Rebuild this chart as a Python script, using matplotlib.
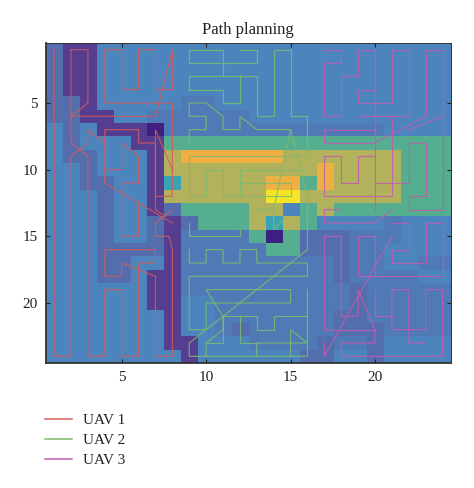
import matplotlib
matplotlib.use("Agg")
import matplotlib.pyplot as plt
from matplotlib.colors import ListedColormap

grid_rows = [
    [2,1,1]+[4]*21,
    [2,1,1]+[4]*21,
    [2,1,1]+[4]*21,
    [2,1,1]+[4]*21,
    [2,2,1]+[4]*5+[3,3]+[4]*14,
    [2,2,1,1,4,4]+[3]*6+[4]*12,
    [4,2,4,1,1,1,0]+[3]*13+[4]*4,
    [4,2,4,4,4,1,1]+[6]*17,
    [4,2,2,4,4,4,1,7]+[8]*6+[7]*7+[6]*3,
    [4,4,2,4,4,4,1,7]+[7]*8+[8]+[7]*4+[6]*3,
    [4,4,2,2,4,4,1,5]+[7]*5+[8,8,6,8]+[7]*4+[6]*3,
    [4,4,4,2,4,4,1,7]+[7]*5+[9,9,7,7]+[7]*4+[6]*3,
    [4,4,4,2,4,4,1,2]+[6]*4+[7,7,4,6,7]+[6]*7,
    [4,4,4,2,4,4,2,1,2,6,6,6,7,5,7,6,4,4,4,4,3,4,4,4],
    [4,4,4,2,4,4,2,1,3,3,3,3,6,0,6,2,2,2,3,3,3,4,4,4],
    [4,4,4,2,2,2,2,1,3,3,3,3,3,6,6,2,2,2,3,3,4,4,4,4],
    [4,4,4,2,2,4,4,1]+[3]*9+[2,3,3,4,4,3,3],
    [4,4,4,2,2,4,1,1]+[3]*9+[2,3,3,3,3,4,4],
    [4]*6+[1,1]+[3]*10+[2]+[3]*5,
    [4]*6+[1,1,4,4]+[3]*8+[2]+[3]*5,
    [4]*7+[1,4,4]+[3]*7+[2,2]+[3]*5,
    [4]*7+[1,4,4,3,2]+[3]*5+[2,2,2]+[3]*4,
    [4]*7+[1,1,4,4,4,3,3,3,3,2,3,3,2,4,4,4,4],
    [4]*8+[1]+[4]*6+[2,2,4,4,2,4,4,4,4],
]
level_colors = ["#3f2080", "#553d8f", "#536dad", "#4f7ab5", "#4c85bd", "#3aa3b3",
                "#55ae8f", "#b3b25c", "#efb043", "#f6e526"]

uav1_paths = [
    [(1,1),(1,24),(2,24),(2,9),(3,8),(3,7),(4,8)],
    [(2,1),(2,8),(3,9),(3,24),(4,24),(4,19),(5,19),(5,24),(6,24),(6,17),(7,17),(7,16),(4,16),
     (4,18),(5,18),(5,17),(7,18),(7,24),(8,24),(8,16),(7.8,15),(7,15),(7,14),(8,13)],
    [(2,1),(3,1),(3,5),(2,6),(7,6),(8,1),(8,4),(7,4),(7,1),(6,1),(6,4),(5,4),(5,1),(4,1),(4,5),
     (8,5),(8,12),(7,12),(7,8),(6,8),(6,7),(4,7),(4,11),(8,14)],
    [(8,10),(7,7),(7,13),(7.6,13.5)],
    [(4,10),(5,10),(5,8),(6,9),(6,11),(5,11),(5,15),(6,15),(6,12.5)],
]
uav2_paths = [
    [(12,1),(13,1),(13,2),(9,2),(9,1),(11,1),(11,3)],
    [(9,3),(13,3),(13,6),(14,6),(14,1),(15,1),(15,6),(16,6),(16,9),(9,9),(9,12),(10,12),(10,10),
     (11,10),(11,12),(12,12),(12,10),(16,10)],
    [(9,3),(9,4),(11,4),(11,5),(12,5),(12,3)],
    [(9,8),(9,7),(10,7),(10,6),(9,6),(9,5),(10,5),(11,6),(11,7),(12,7),(12,6),(13,7),(15,7),(14,13)],
    [(15,7),(16,12),(16,16),(9,23),(9,24),(16,24),(16,23),(13,23),(13,24)],
    [(12,11),(15,11),(15,12),(12,12)],
    [(13,13),(14,13),(14,14.5),(14.6,13.7)],
    [(9,14),(9,15),(12,15),(12,14.5)],
    [(9,16),(9,17),(10,17),(10,16),(11,16),(11,17),(12,17),(12,16),(13,16),(13,17),(16,17),(16,18),
     (9,18),(9,22),(10,22),(10,20),(15,20),(15,19),(10,19),(11,21),(11,22),(10,23),(10,24)],
    [(10,23),(11,23),(11,21),(12,21),(12,23),(13,23)],
    [(12,21),(13,21),(13,22),(14,22),(14,21),(16,21)],
    [(16,19),(16,23),(15,22),(15,24)],
]
uav3_paths = [
    [(17,1),(18,1),(18,2),(17,2),(17,6),(18,6),(18,3),(19,3),(19,1),(20,1),(20,5),(19,5),(19,4),(20,4)],
    [(19,6),(20,6),(20,5),(21,5),(21,1),(22,1),(22,6),(20,6),(20,13)],
    [(23,6),(23,1),(24,1),(24,13)],
    [(23,6),(20,8)],
    [(24,6),(22,7)],
    [(17,7),(20,7),(20,8),(17,8),(17,7)],
    [(20,9),(19,9),(19,11),(18,11),(18,9),(17,9),(17,12),(21,12),(21,6)],
    [(20,11),(22,11),(22,8),(23,8),(23,12),(22,12),(22,13),(24,13)],
    [(18,13),(17,13),(17,14),(20,14),(21,13)],
    [(21,14),(22,14),(22,16),(21,16),(21,17),(23,17),(23,14),(24,14),(24,18),(19,18),(19,15),(20,15),(20,18)],
    [(17,15),(18,15),(18,21),(19,21),(19,19),(20,22),(20,23),(18,23),(18,24),(24,24),(24,19),(23,19),
     (23,22),(21,22),(21,19),(22,19),(22,23),(23,23)],
    [(20,19),(20,21),(21,21)],
    [(17,15),(17,22),(20,22)],
    [(21,15),(17,24),(17,23)],
]
legend_labels = ["UAV 1", "UAV 2", "UAV 3"]
line_colors = ["#d65a5c", "#7dbb6e", "#c45bb0"]
tick_values = [5, 10, 15, 20]

plt.rcParams["font.family"] = ["Liberation Serif", "DejaVu Serif"]
fig = plt.figure(figsize=(4.74, 4.88), dpi=100)
ax = fig.add_axes([45.7/474, 1-363/488, (451-45.7)/474, (363-43)/488])
ax.imshow(grid_rows, cmap=ListedColormap(level_colors), vmin=-0.5, vmax=9.5,
          extent=(0.5, 24.5, 24.5, 0.5), aspect="auto", interpolation="nearest")
handles = []
for paths, color, label in zip([uav1_paths, uav2_paths, uav3_paths], line_colors, legend_labels):
    for i, path in enumerate(paths):
        xs, ys = zip(*path)
        h, = ax.plot(xs, ys, color=color, lw=0.85, alpha=0.85, solid_joinstyle="miter",
                     label=label if i == 0 else None)
        if i == 0:
            handles.append(h)
ax.set_xlim(0.5, 24.5)
ax.set_ylim(24.5, 0.5)
ax.set_xticks(tick_values)
ax.set_yticks(tick_values)
ax.tick_params(direction="in", top=True, right=True, length=3, width=0.8, color="#222222",
               labelsize=11, labelcolor="#222222", pad=5.5)
for side, s in ax.spines.items():
    s.set_color("#333333")
    s.set_linewidth(1.3 if side in ("left", "bottom") else 0.7)
ax.set_title("Path planning", fontsize=12, color="#222222", pad=6.5)
leg = fig.legend(handles=handles, labels=legend_labels, loc="upper left", bbox_to_anchor=(45/474, 1-413.5/488),
                 bbox_transform=fig.transFigure, frameon=False, fontsize=11, labelcolor="#222222",
                 handlelength=1.75, handletextpad=0.72, labelspacing=0.42, borderpad=0, borderaxespad=0)
for line in leg.get_lines():
    line.set_alpha(1)
    line.set_linewidth(1.1)
fig.savefig("out.png", dpi=100)
